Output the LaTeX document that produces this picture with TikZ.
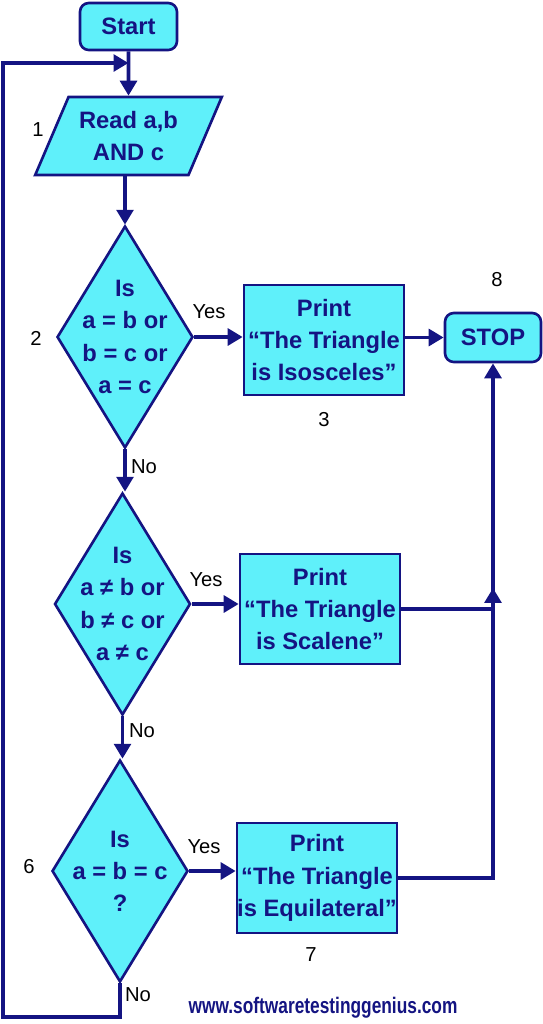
\documentclass[tikz,border=0pt]{standalone}
\usepackage{fontspec}
\setmainfont{Liberation Sans}
\usepackage{graphicx}
\usetikzlibrary{shapes.geometric,arrows.meta}

\definecolor{navy}{RGB}{20,20,130}
\definecolor{aqua}{RGB}{95,240,250}

\tikzset{
	block/.style={draw=navy, fill=aqua, line width=1.5pt, text=navy, align=center,
		font=\fontsize{13.5}{18.3}\selectfont\bfseries},
	term/.style={block, rounded corners=5pt, minimum width=1.94cm, minimum height=0.94cm},
	io/.style={block, trapezium, trapezium left angle=61, trapezium right angle=119,
		trapezium stretches=true, minimum width=3.74cm, minimum height=1.56cm, inner sep=0pt},
	decision/.style={block, diamond, minimum width=2.72cm, minimum height=4.44cm, inner sep=0pt},
	dtext/.style={text=navy, align=center, font=\fontsize{13.5}{18.3}\selectfont\bfseries},
	printbox/.style={block, minimum width=3.2cm, minimum height=2.2cm, inner sep=0pt},
	tag/.style={font=\fontsize{11.5}{13}\selectfont},
	flow/.style={draw=navy, line width=2.1pt},
	flowarrow/.style={flow, -{Triangle[length=8.5pt,width=9.5pt]}}
}

\begin{document}
\begin{tikzpicture}

	\useasboundingbox (0,0) rectangle (10.86,-20.48);

	% Boxes
	\node[term] (start) at (2.57,-0.53) {Start};
	\node[io] (read) at (2.57,-2.72) {Read a,b\\AND c};
	\node[decision] (d1) at (2.5,-6.74) {};
	\node[dtext] (q1) at (d1) {Is\\a = b or\\b = c or\\a = c};
	\node[decision] (d2) at (2.45,-12.08) {};
	\node[dtext] (q2) at (d2) {Is\\a ≠ b or\\b ≠ c or\\a ≠ c};
	\node[decision] (d3) at (2.4,-17.42) {};
	\node[dtext] (q3) at (d3) {Is\\a = b = c\\?};
	\node[printbox] (p3) at (6.48,-6.8) {Print\\“The Triangle\\is Isosceles”};
	\node[printbox] (p5) at (6.4,-12.18) {Print\\“The Triangle\\is Scalene”};
	\node[printbox] (p7) at (6.34,-17.56) {Print\\“The Triangle\\is Equilateral”};
	\node[term, minimum width=1.92cm, minimum height=0.98cm] (stop) at (9.86,-6.75) {STOP};

	% Numbers
	\node[tag] (n1) at (0.76,-2.6) {1};
	\node[tag] (n2) at (0.72,-6.76) {2};
	\node[tag] (n3) at (6.48,-8.4) {3};
	\node[tag] (n6) at (0.58,-17.34) {6};
	\node[tag] (n7) at (6.22,-19.1) {7};
	\node[tag] (n8) at (9.94,-5.6) {8};

	% Answers
	\node[tag] (yes1) at (4.18,-6.24) {Yes};
	\node[tag] (yes2) at (4.12,-11.6) {Yes};
	\node[tag] (yes3) at (4.08,-16.94) {Yes};
	\node[tag] (no1) at (2.88,-9.34) {No};
	\node[tag] (no2) at (2.84,-14.62) {No};
	\node[tag] (no3) at (2.76,-19.9) {No};

	\node[text=navy, font=\fontsize{12.8}{14}\selectfont\bfseries] (web) at (6.46,-20.16)
		{\scalebox{0.77}[1]{www.softwaretestinggenius.com}};

	% Loop back
	\coordinate (corner) at (0.06,-20.34);
	\coordinate (entry) at (2.57,-1.26);

	% Flow
	\draw[flowarrow] (start.south) -- (read.north);
	\draw[flowarrow] (read.south -| d1.north) -- (d1.north);
	\draw[flowarrow] (d1.south) -- (d1.south |- d2.north);
	\draw[flowarrow] (d2.south) -- (d2.south |- d3.north);
	\draw[flowarrow] (d3.south) |- (corner) |- (entry);

	\draw[flowarrow] (d1.east) -- (d1.east -| p3.west);
	\draw[flowarrow] (d2.east) -- (d2.east -| p5.west);
	\draw[flowarrow] (d3.east) -- (d3.east -| p7.west);

	\draw[flowarrow] (p3.east |- stop) -- (stop.west);
	\draw[flowarrow] (p7.east) -| (stop.south);
	\draw[flow] (p5.east) -- (p5.east -| stop.south);
	\draw[flowarrow] (p5.east -| stop.south) -- ++(0,0.42);

\end{tikzpicture}
\end{document}
